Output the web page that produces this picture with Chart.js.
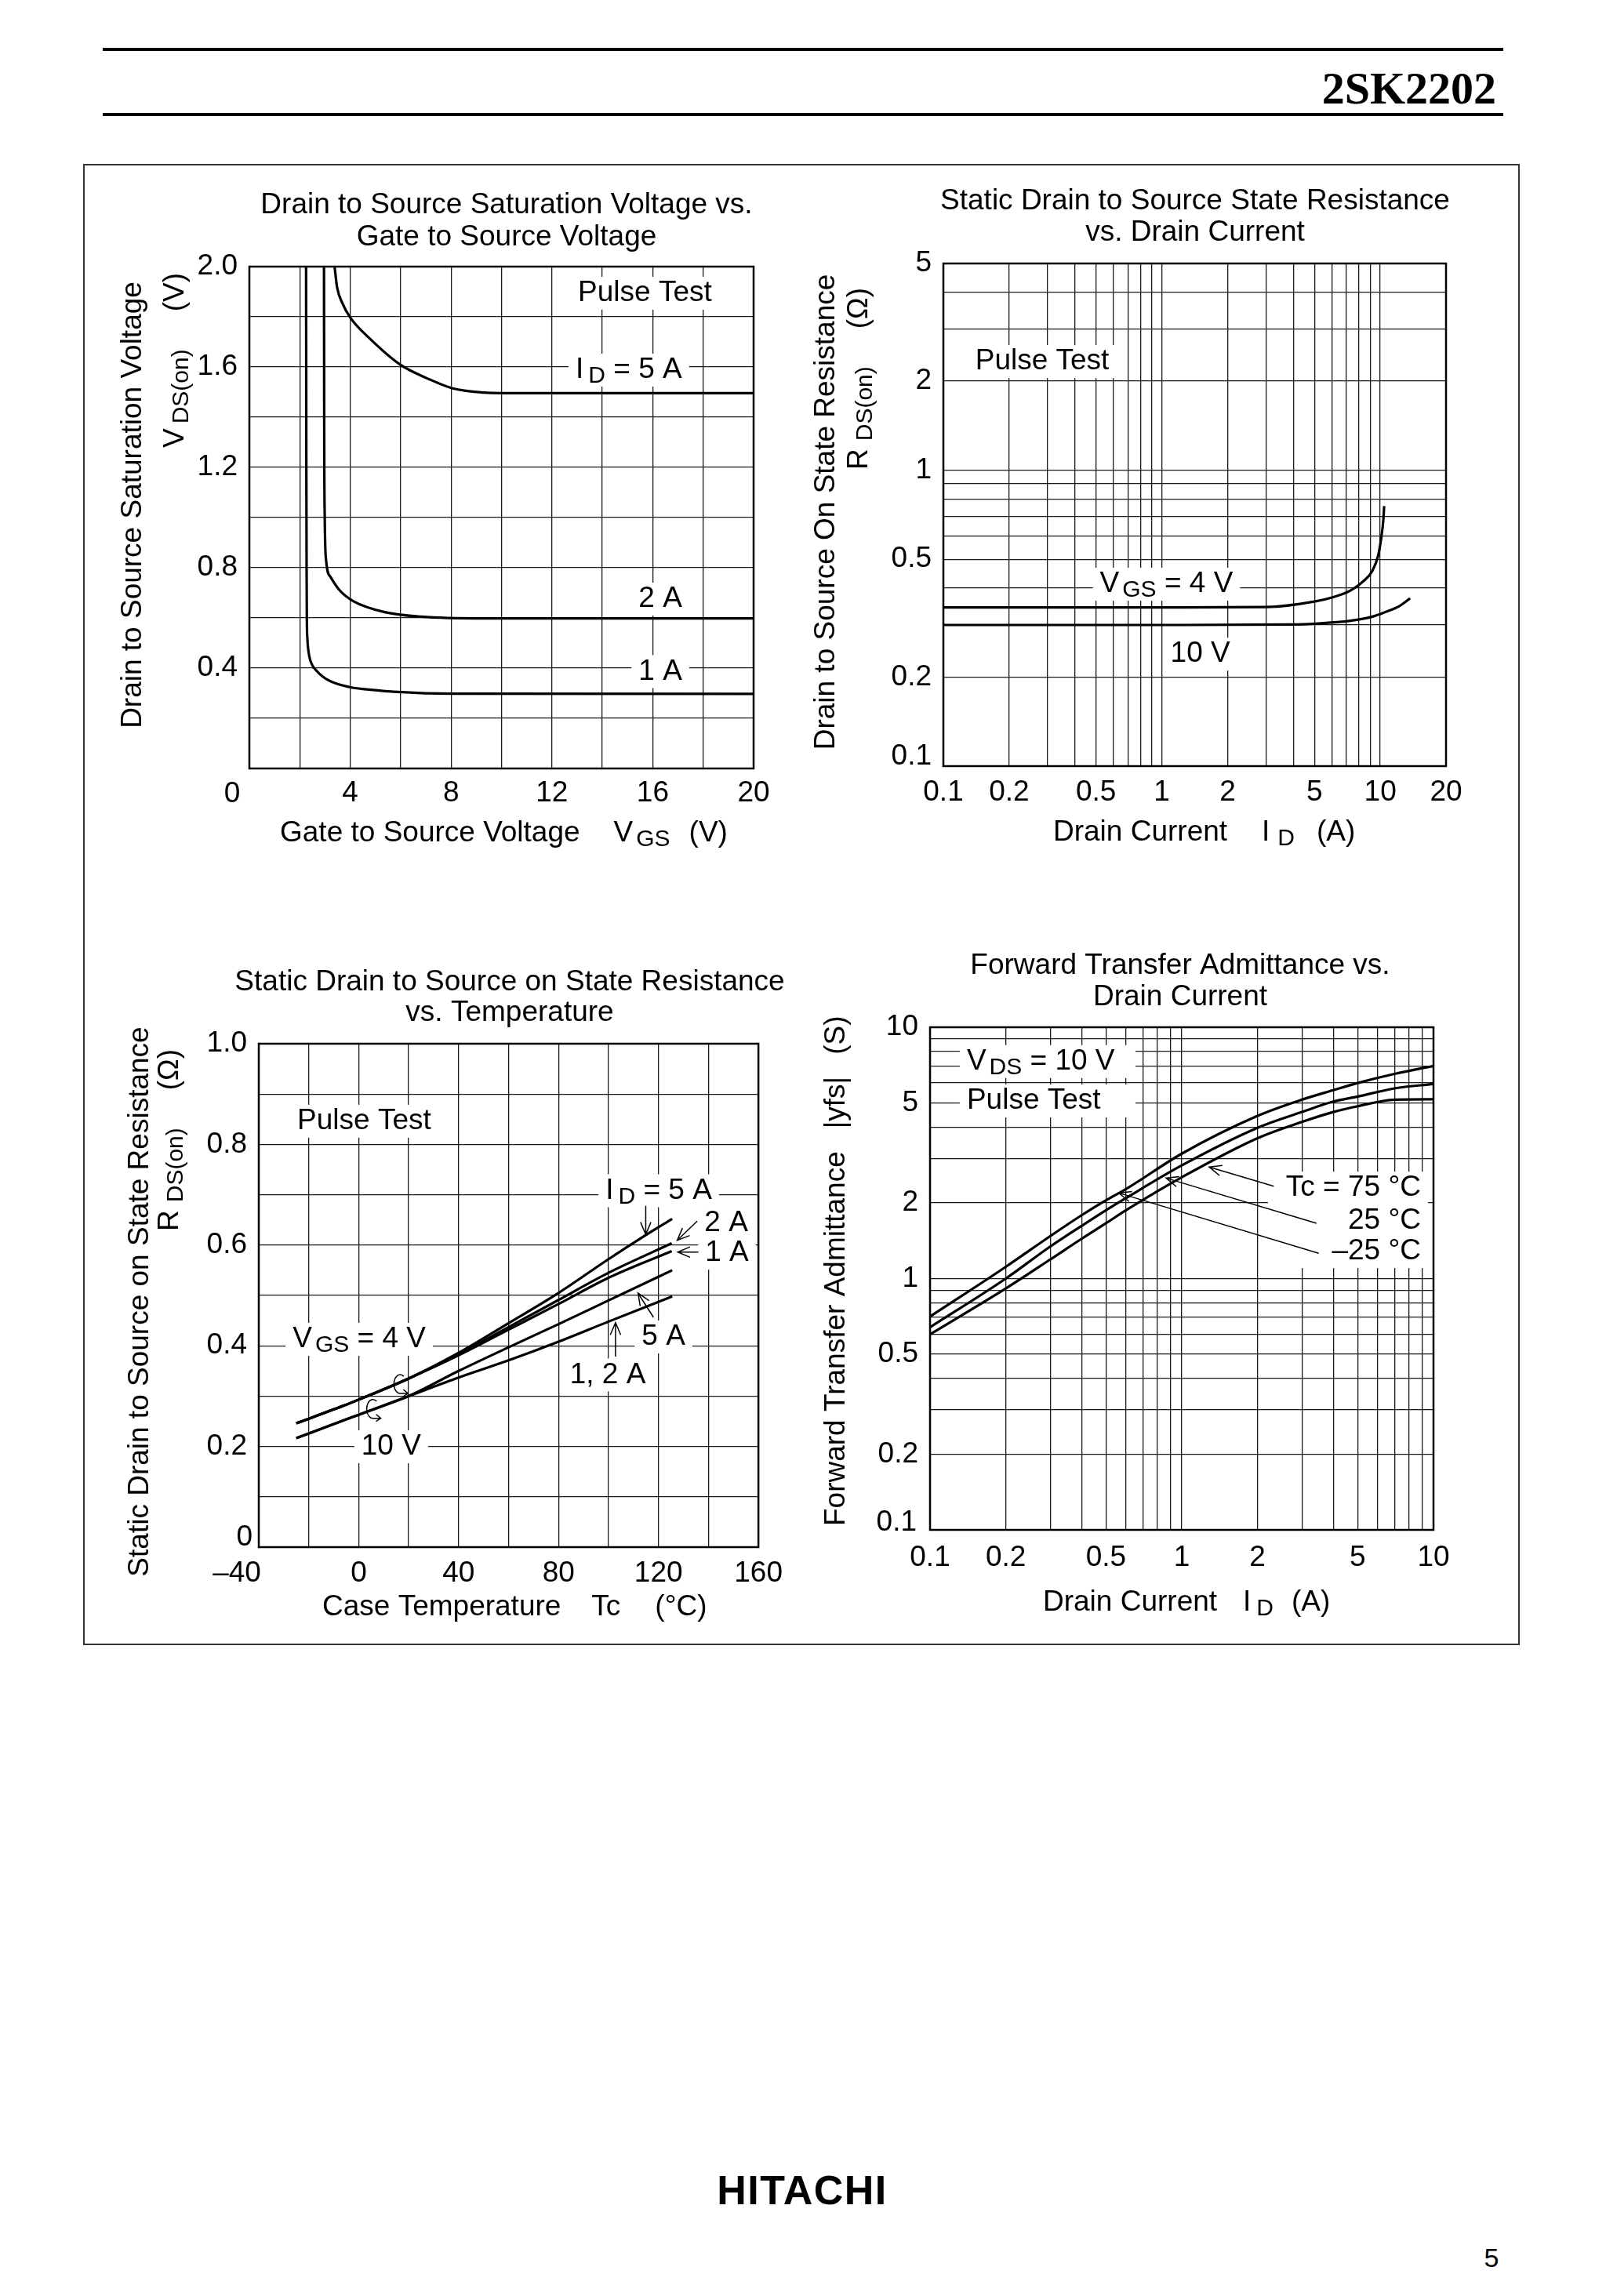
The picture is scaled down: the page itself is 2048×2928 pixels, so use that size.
<!DOCTYPE html>
<html>
<head>
<meta charset="utf-8">
<title>2SK2202</title>
<script src="https://cdn.jsdelivr.net/npm/chart.js@4.4.1/dist/chart.umd.min.js"></script>
<style>
  html, body { margin: 0; padding: 0; background: #fff; }
  #page { position: relative; width: 2048px; height: 2928px; background: #fff; overflow: hidden; }
  .rule { position: absolute; left: 131px; width: 1786px; height: 4px; background: #000; }
  #part { position: absolute; right: 140px; top: 84px; font: bold 58px/58px "Liberation Serif", "Times New Roman", serif; }
  #frame { position: absolute; left: 106px; top: 209px; width: 1832px; height: 1889px; border: 2px solid #333; box-sizing: border-box; }
  #logo { position: absolute; left: 0; width: 2046px; top: 2767px; text-align: center; font: bold 52px/52px "Liberation Sans", Arial, sans-serif; letter-spacing: 1.5px; }
  #pageno { position: absolute; left: 1872px; width: 60px; top: 2862px; text-align: center; font: 34px/34px "Liberation Sans", Arial, sans-serif; }
  canvas { position: absolute; }
</style>
</head>
<body>
<div id="page">
  <div class="rule" style="top:61px"></div>
  <div id="part">2SK2202</div>
  <div class="rule" style="top:144px"></div>
  <div id="frame"></div>
  <canvas id="c1" width="900" height="885" style="left:110px;top:215px"></canvas>
  <canvas id="c2" width="915" height="885" style="left:1015px;top:215px"></canvas>
  <canvas id="c3" width="900" height="900" style="left:110px;top:1190px"></canvas>
  <canvas id="c4" width="915" height="900" style="left:1015px;top:1190px"></canvas>
  <div id="logo">HITACHI</div>
  <div id="pageno">5</div>
</div>
<script>
// ---- saturation voltage vs gate voltage ----
const satVgs1A = [2.25, 2.26, 2.27, 2.28, 2.3, 2.34, 2.42, 2.69, 3.13, 3.94, 5.0, 5.73, 8.06, 20];
const satVds1A = [2.0, 1.2, 0.8, 0.6, 0.52, 0.47, 0.43, 0.387, 0.352, 0.325, 0.312, 0.306, 0.298, 0.297];
const satVgs2A = [2.96, 2.97, 2.99, 3.04, 3.22, 3.58, 4.12, 5.37, 6.8, 9.3, 20];
const satVds2A = [2.0, 1.3, 1.0, 0.833, 0.763, 0.71, 0.667, 0.623, 0.605, 0.598, 0.598];
const satVgs5A = [3.38, 3.48, 3.69, 4.0, 4.82, 5.99, 7.16, 8.06, 9.3, 10, 20];
const satVds5A = [2.0, 1.917, 1.854, 1.797, 1.709, 1.609, 1.55, 1.515, 1.498, 1.496, 1.496];
const satXLabelAt = [4, 8, 12, 16, 20];
const satXLabels = ['4', '8', '12', '16', '20'];
const satYLabelAt = [0.4, 0.8, 1.2, 1.6, 2.0];
const satYLabels = ['0.4', '0.8', '1.2', '1.6', '2.0'];

// ---- on resistance vs drain current ----
const rdsId4V = [0.1, 1, 3, 5, 6.05, 7.3, 8.37, 9.2, 9.78, 10.1, 10.33, 10.42];
const rds4V = [0.344, 0.344, 0.345, 0.36, 0.372, 0.392, 0.422, 0.457, 0.515, 0.59, 0.68, 0.757];
const rdsId10V = [0.1, 1, 4, 5, 7.3, 9.2, 10.57, 12.2, 13.7];
const rds10V = [0.30, 0.30, 0.301, 0.303, 0.31, 0.32, 0.332, 0.347, 0.369];
const rdsGridX = [0.1, 0.2, 0.3, 0.4, 0.5, 0.6, 0.7, 0.8, 0.9, 1, 2, 3, 4, 5, 6, 7, 8, 9, 10, 20];
const rdsXLabelAt = [0.1, 0.2, 0.5, 1, 2, 5, 10, 20];
const rdsXLabels = ['0.1', '0.2', '0.5', '1', '2', '5', '10', '20'];
const rdsGridY = [0.1, 0.2, 0.3, 0.4, 0.5, 0.6, 0.7, 0.8, 0.9, 1, 2, 3, 4, 5];
const rdsYLabelAt = [0.1, 0.2, 0.5, 1, 2, 5];
const rdsYLabels = ['0.1', '0.2', '0.5', '1', '2', '5'];

// ---- on resistance vs case temperature ----
const tc4V = [-25, -6, 0, 20, 40, 60, 80, 100, 115, 125.5];
const rds4V5A = [0.246, 0.281, 0.293, 0.335, 0.386, 0.445, 0.505, 0.572, 0.62, 0.652];
const tc4Vlow = [-25, -6, 0, 20, 40, 60, 80, 100, 125.3];
const rds4V2A = [0.246, 0.281, 0.293, 0.335, 0.383, 0.437, 0.491, 0.545, 0.6035];
const rds4V1A = [0.246, 0.281, 0.293, 0.335, 0.381, 0.432, 0.483, 0.535, 0.588];
const tc10V = [-25, -6, 0, 20, 40, 60, 80, 100, 125.5];
const rds10V5A = [0.2165, 0.252, 0.263, 0.300, 0.350, 0.397, 0.443, 0.490, 0.550];
const rds10V12A = [0.2165, 0.252, 0.263, 0.300, 0.337, 0.371, 0.408, 0.448, 0.498];
const tcXLabelAt = [0, 40, 80, 120, 160];
const tcXLabels = ['0', '40', '80', '120', '160'];
const tcYLabelAt = [0, 0.2, 0.4, 0.6, 0.8, 1.0];
const tcYLabels = ['0', '0.2', '0.4', '0.6', '0.8', '1.0'];

// ---- forward transfer admittance vs drain current ----
const yfsId = [0.1, 0.2, 0.3, 0.4, 0.5, 0.6, 1, 2, 3, 4, 5, 7, 10];
const yfsM25 = [0.706, 1.114, 1.474, 1.786, 2.05, 2.27, 3.14, 4.44, 5.15, 5.62, 6.0, 6.52, 7.02];
const yfs25 = [0.640, 1.0, 1.34, 1.62, 1.87, 2.09, 2.82, 3.98, 4.6, 5.06, 5.30, 5.71, 5.95];
const yfs75 = [0.600, 0.913, 1.19, 1.44, 1.66, 1.87, 2.53, 3.62, 4.2, 4.60, 4.85, 5.15, 5.17];
const yfsGrid = [0.1, 0.2, 0.3, 0.4, 0.5, 0.6, 0.7, 0.8, 0.9, 1, 2, 3, 4, 5, 6, 7, 8, 9, 10];
const yfsLabelAt = [0.1, 0.2, 0.5, 1, 2, 5, 10];
const yfsLabels = ['0.1', '0.2', '0.5', '1', '2', '5', '10'];

const FONT = '"Liberation Sans", Arial, Helvetica, sans-serif';
const BASE = 37, SUB = 30, SUB_DY = 8;

function setFont(ctx, sub) { ctx.font = (sub ? SUB : BASE) + 'px ' + FONT; }

function richWidth(ctx, segs) {
  let w = 0;
  for (const s of segs) {
    if (s.gap) { w += s.gap; continue; }
    setFont(ctx, s.sub);
    w += ctx.measureText(s.t).width;
  }
  return w;
}

function drawRich(ctx, segs, x, y, align, rotate) {
  ctx.save();
  ctx.translate(x, y);
  if (rotate) ctx.rotate(-Math.PI / 2);
  const w = richWidth(ctx, segs);
  let cx = align === 'center' ? -w / 2 : align === 'right' ? -w : 0;
  ctx.textAlign = 'left';
  ctx.textBaseline = 'middle';
  ctx.fillStyle = '#000';
  for (const s of segs) {
    if (s.gap) { cx += s.gap; continue; }
    setFont(ctx, s.sub);
    ctx.fillText(s.t, cx, s.sub ? SUB_DY : 0);
    cx += ctx.measureText(s.t).width;
  }
  ctx.restore();
}

function arrow(ctx, x1, y1, x2, y2) {
  const a = Math.atan2(y2 - y1, x2 - x1), L = 17, h = 0.4;
  ctx.beginPath();
  ctx.moveTo(x1, y1);
  ctx.lineTo(x2, y2);
  ctx.moveTo(x2 - L * Math.cos(a - h), y2 - L * Math.sin(a - h));
  ctx.lineTo(x2, y2);
  ctx.lineTo(x2 - L * Math.cos(a + h), y2 - L * Math.sin(a + h));
  ctx.stroke();
}

function curl(ctx, x, y) {
  ctx.beginPath();
  ctx.ellipse(x, y, 8, 12, 0, -0.3 * Math.PI, 0.5 * Math.PI, true);
  ctx.lineTo(x + 10, y + 12);
  ctx.moveTo(x + 4, y + 7);
  ctx.lineTo(x + 10, y + 12);
  ctx.lineTo(x + 4, y + 16);
  ctx.stroke();
}

const T = t => ({ t });
const S = t => ({ t, sub: true });
const G = gap => ({ gap });

// texts around and inside each plot; in-plot ones are placed in data units
const DECO = {
  c1: {
    texts: [
      { segs: [T('Drain to Source Saturation Voltage vs.')], dx: 328, dy: -78, align: 'center' },
      { segs: [T('Gate to Source Voltage')], dx: 328, dy: -37, align: 'center' },
      { segs: [T('Drain to Source Saturation Voltage')], dx: -148, dy: 304, align: 'center', rotate: true },
      { segs: [T('V'), G(6), S('DS(on)'), G(48), T('(V)')], dx: -94, dy: 231, align: 'left', rotate: true },
      { segs: [T('Gate to Source Voltage'), G(43), T('V'), G(4), S('GS'), G(24), T('(V)')], dx: 39, dy: 83, from: 'bottom', align: 'left' },
      { segs: [T('0')], dx: -22, dy: 33, from: 'bottom', align: 'center' }
    ],
    notes: [
      { at: [15.69, 1.894], segs: [T('Pulse Test')], align: 'center' },
      { at: [15.05, 1.5875], segs: [T('I'), G(6), S('D'), T(' = 5 A')], align: 'center' },
      { at: [16.3, 0.675], segs: [T('2 A')], align: 'center' },
      { at: [16.3, 0.386], segs: [T('1 A')], align: 'center' }
    ]
  },
  c2: {
    texts: [
      { segs: [T('Static Drain to Source State Resistance')], dx: 321, dy: -79, align: 'center' },
      { segs: [T('vs. Drain Current')], dx: 321, dy: -39, align: 'center' },
      { segs: [T('Drain to Source On State Resistance')], dx: -149, dy: 317, align: 'center', rotate: true },
      { segs: [T('R'), G(10), S('DS(on)'), G(48), T('(Ω)')], dx: -107, dy: 263, align: 'left', rotate: true },
      { segs: [T('Drain Current'), G(44), T('I'), G(10), S('D'), G(28), T('(A)')], dx: 140, dy: 85, from: 'bottom', align: 'left' },
      { segs: [T(rdsYLabels[0])], dx: -15, dy: -12, from: 'bottom', align: 'right' }
    ],
    notes: [
      { at: [0.140, 2.33], segs: [T('Pulse Test')], align: 'left' },
      { at: [1.05, 0.412], segs: [T('V'), G(4), S('GS'), T(' = 4 V')], align: 'center' },
      { at: [1.50, 0.239], segs: [T('10 V')], align: 'center' }
    ]
  },
  c3: {
    texts: [
      { segs: [T('Static Drain to Source on State Resistance')], dx: 320, dy: -78, align: 'center' },
      { segs: [T('vs. Temperature')], dx: 320, dy: -39, align: 'center' },
      { segs: [T('Static Drain to Source on State Resistance')], dx: -151, dy: 329, align: 'center', rotate: true },
      { segs: [T('R'), G(10), S('DS(on)'), G(48), T('(Ω)')], dx: -113, dy: 239, align: 'left', rotate: true },
      { segs: [T('Case Temperature'), G(39), T('Tc'), G(44), T('(°C)')], dx: 81, dy: 77, from: 'bottom', align: 'left' },
      { segs: [T('–40')], dx: -28, dy: 34, from: 'bottom', align: 'center' },
      { segs: [T(tcYLabels[0])], dx: -8, dy: -12, from: 'bottom', align: 'right' }
    ],
    notes: [
      { at: [2.2, 0.846], segs: [T('Pulse Test')], align: 'center' },
      { at: [120.1, 0.708], segs: [T('I'), G(6), S('D'), T(' = 5 A')], align: 'center' },
      { at: [147.1, 0.643], segs: [T('2 A')], align: 'center' },
      { at: [147.4, 0.584], segs: [T('1 A')], align: 'center' },
      { at: [122.0, 0.4174], segs: [T('5 A')], align: 'center' },
      { at: [99.7, 0.342], segs: [T('1, 2 A')], align: 'center' },
      { at: [0.2, 0.4128], segs: [T('V'), G(4), S('GS'), T(' = 4 V')], align: 'center' },
      { at: [13.0, 0.1994], segs: [T('10 V')], align: 'center' }
    ],
    arrows: [
      [114.9, 0.678, 114.9, 0.621],
      [135.5, 0.6475, 127.5, 0.6095],
      [136.0, 0.586, 127.7, 0.586],
      [118.0, 0.4564, 111.8, 0.5047],
      [102.8, 0.3785, 102.8, 0.446]
    ],
    curls: [[16.6, 0.324], [5.7, 0.2746]]
  },
  c4: {
    texts: [
      { segs: [T('Forward Transfer Admittance vs.')], dx: 319, dy: -78, align: 'center' },
      { segs: [T('Drain Current')], dx: 319, dy: -38, align: 'center' },
      { segs: [T('Forward Transfer Admittance'), G(29), T('|yfs|'), G(28), T('(S)')], dx: -119, dy: 636, align: 'left', rotate: true },
      { segs: [T('Drain Current'), G(33), T('I'), G(7), S('D'), G(23), T('(A)')], dx: 144, dy: 93, from: 'bottom', align: 'left' },
      { segs: [T(yfsLabels[0])], dx: -17, dy: -9, from: 'bottom', align: 'right' }
    ],
    notes: [
      { at: [0.140, 7.30], segs: [T('V'), G(4), S('DS'), T(' = 10 V')], align: 'left', bgw: 206 },
      { at: [0.140, 5.09], segs: [T('Pulse Test')], align: 'left', bgw: 206 },
      { at: [8.91, 2.29], segs: [T('Tc = 75 °C')], align: 'right', bgw: 186 },
      { at: [8.91, 1.696], segs: [T('25 °C')], align: 'right', bgw: 186 },
      { at: [8.91, 1.281], segs: [T('–25 °C')], align: 'right', bgw: 186 }
    ],
    arrows: [
      [2.32, 2.33, 1.285, 2.78],
      [3.43, 1.66, 0.866, 2.51],
      [3.50, 1.26, 0.562, 2.19]
    ]
  }
};

const deco = {
  id: 'deco',
  beforeDatasetsDraw(chart) {
    const d = DECO[chart.canvas.id];
    const { ctx, chartArea: a, scales: { x, y } } = chart;
    ctx.save();
    ctx.fillStyle = '#fff';
    for (const n of d.notes) {
      const w = Math.max(richWidth(ctx, n.segs), n.bgw || 0);
      const px = x.getPixelForValue(n.at[0]), py = y.getPixelForValue(n.at[1]);
      const left = n.align === 'center' ? px - w / 2 : n.align === 'right' ? px - w : px;
      ctx.fillRect(left - 9, py - 21, w + 18, 42);
    }
    ctx.strokeStyle = '#000';
    ctx.lineWidth = 2.5;
    ctx.strokeRect(a.left, a.top, a.width, a.height);
    ctx.restore();
  },
  afterDatasetsDraw(chart) {
    const d = DECO[chart.canvas.id];
    const { ctx, chartArea: a, scales: { x, y } } = chart;
    for (const n of d.notes) {
      drawRich(ctx, n.segs, x.getPixelForValue(n.at[0]), y.getPixelForValue(n.at[1]), n.align, false);
    }
    for (const t of d.texts) {
      const py = (t.from === 'bottom' ? a.bottom : a.top) + t.dy;
      drawRich(ctx, t.segs, a.left + t.dx, py, t.align, t.rotate);
    }
    ctx.save();
    ctx.strokeStyle = '#000';
    ctx.lineWidth = 1.5;
    for (const r of d.arrows || []) {
      arrow(ctx, x.getPixelForValue(r[0]), y.getPixelForValue(r[1]), x.getPixelForValue(r[2]), y.getPixelForValue(r[3]));
    }
    for (const c of d.curls || []) curl(ctx, x.getPixelForValue(c[0]), y.getPixelForValue(c[1]));
    ctx.restore();
  }
};

// tick text from the label lists; the lowest y label may be drawn raised by the plugin instead
function pick(at, text, skipFirst) {
  return v => {
    const i = at.findIndex(t => Math.abs(t - v) < 1e-6 * Math.max(1, Math.abs(t)));
    if (i < 0 || (skipFirst && i === 0)) return '';
    return text[i];
  };
}

function axis(spec, horizontal) {
  const o = {
    type: spec.type, min: spec.min, max: spec.max,
    position: horizontal ? 'bottom' : 'left',
    grid: { color: '#1a1a1a', lineWidth: 1.3, drawTicks: false },
    border: { display: false },
    ticks: {
      padding: spec.pad, autoSkip: false, maxRotation: 0, minRotation: 0,
      color: '#000', font: { size: BASE },
      callback: pick(spec.labelAt, spec.labels, spec.skipFirst)
    },
    afterFit: horizontal ? s => { s.height = 80; } : s => { s.width = 100; }
  };
  if (spec.step) o.ticks.stepSize = spec.step;
  if (spec.grid) o.afterBuildTicks = s => { s.ticks = spec.grid.map(v => ({ value: v })); };
  return o;
}

function curve(xs, ys) {
  return {
    data: xs.map((v, i) => ({ x: v, y: ys[i] })),
    borderColor: '#000', borderWidth: 3.2, pointRadius: 0,
    cubicInterpolationMode: 'monotone', fill: false
  };
}

function drawChart(id, datasets, xs, ys, padding) {
  const ctx = document.getElementById(id).getContext('2d');
  return new Chart(ctx, {
    type: 'line',
    data: { datasets },
    options: {
      responsive: false, animation: false, devicePixelRatio: 1, events: [],
      layout: { padding },
      plugins: { legend: { display: false }, tooltip: { enabled: false }, title: { display: false } },
      scales: { x: axis(xs, true), y: axis(ys, false) }
    },
    plugins: [deco]
  });
}

Chart.defaults.font.family = FONT;
Chart.defaults.font.size = BASE;
Chart.defaults.color = '#000';

drawChart('c1',
  [curve(satVgs1A, satVds1A), curve(satVgs2A, satVds2A), curve(satVgs5A, satVds5A)],
  { type: 'linear', min: 0, max: 20, step: 2, labelAt: satXLabelAt, labels: satXLabels, pad: 10 },
  { type: 'linear', min: 0, max: 2, step: 0.2, labelAt: satYLabelAt, labels: satYLabels, pad: 15 },
  { left: 108, top: 125, right: 49, bottom: 40 });

drawChart('c2',
  [curve(rdsId4V, rds4V), curve(rdsId10V, rds10V)],
  { type: 'logarithmic', min: 0.1, max: 20, grid: rdsGridX, labelAt: rdsXLabelAt, labels: rdsXLabels, pad: 12 },
  { type: 'logarithmic', min: 0.1, max: 5, grid: rdsGridY, labelAt: rdsYLabelAt, labels: rdsYLabels, pad: 15, skipFirst: true },
  { left: 88, top: 121, right: 86, bottom: 43 });

drawChart('c3',
  [curve(tc4V, rds4V5A), curve(tc4Vlow, rds4V2A), curve(tc4Vlow, rds4V1A), curve(tc10V, rds10V5A), curve(tc10V, rds10V12A)],
  { type: 'linear', min: -40, max: 160, step: 20, labelAt: tcXLabelAt, labels: tcXLabels, pad: 12 },
  { type: 'linear', min: 0, max: 1, step: 0.1, labelAt: tcYLabelAt, labels: tcYLabels, pad: 15, skipFirst: true },
  { left: 120, top: 141, right: 38, bottom: 37 });

drawChart('c4',
  [curve(yfsId, yfsM25), curve(yfsId, yfs25), curve(yfsId, yfs75)],
  { type: 'logarithmic', min: 0.1, max: 10, grid: yfsGrid, labelAt: yfsLabelAt, labels: yfsLabels, pad: 14 },
  { type: 'logarithmic', min: 0.1, max: 10, grid: yfsGrid, labelAt: yfsLabelAt, labels: yfsLabels, pad: 15, skipFirst: true },
  { left: 71, top: 120, right: 102, bottom: 59 });
</script>
</body>
</html>
